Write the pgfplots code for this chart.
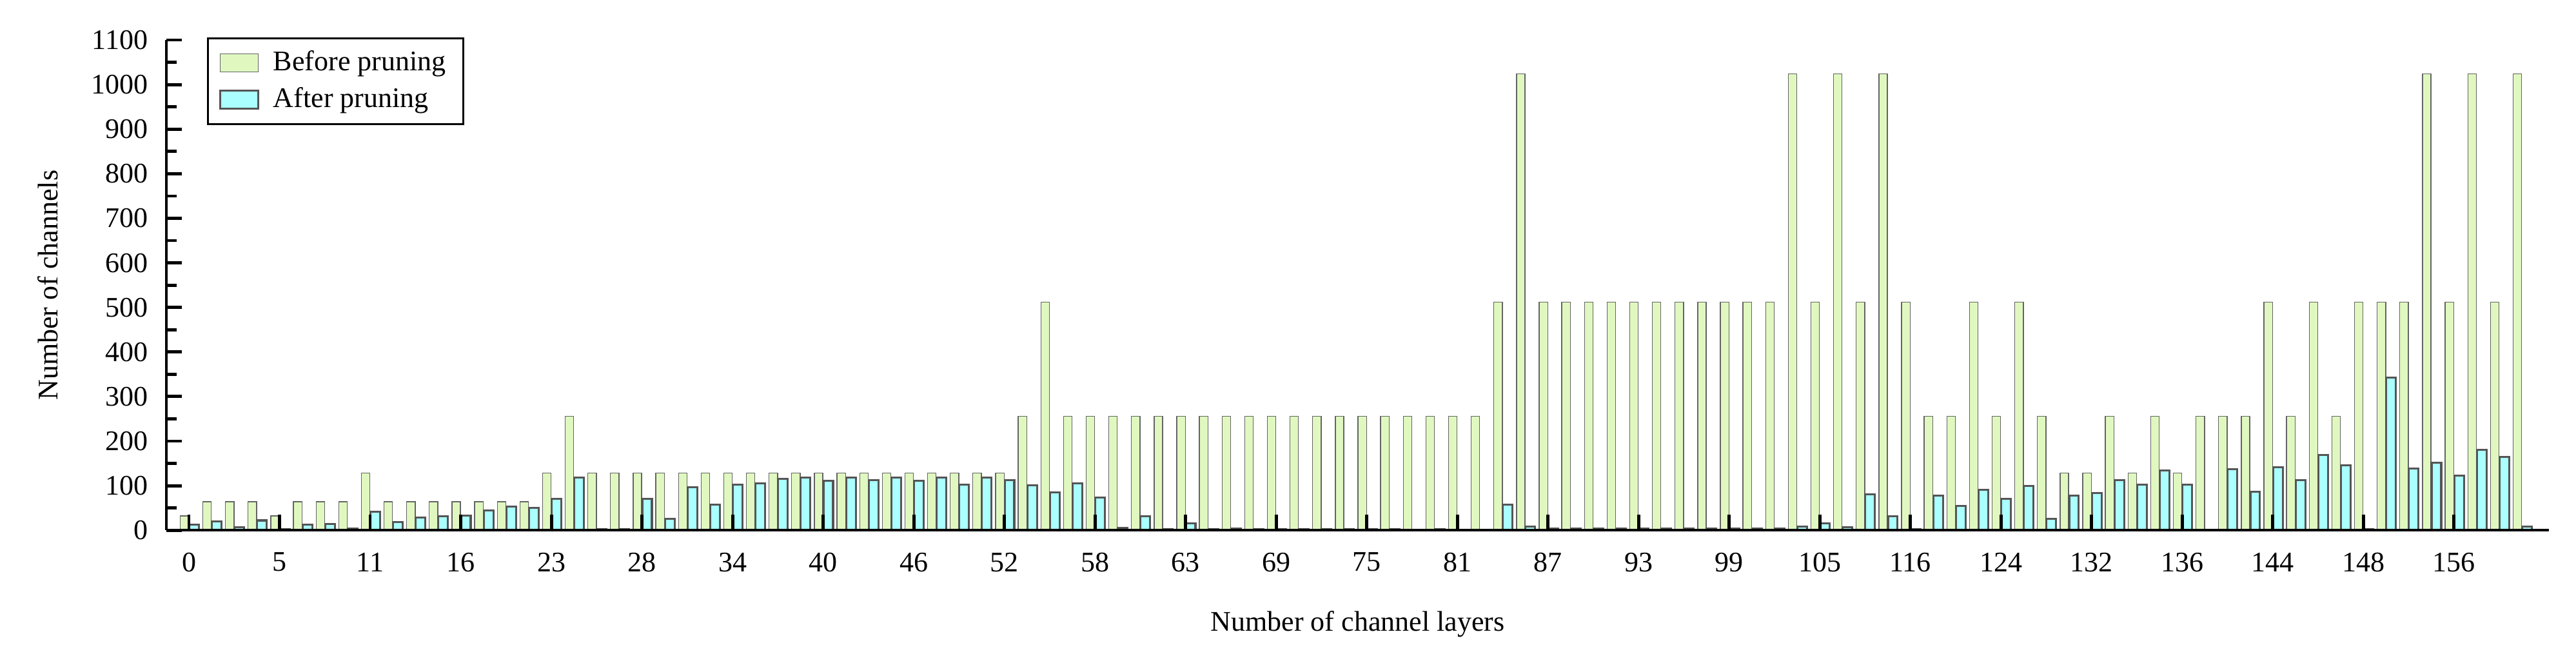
\documentclass[border=0pt]{standalone}
\usepackage{fontspec}
\setmainfont{Liberation Serif}
\usepackage{pgfplots}
\usepackage{pgfplotstable}
\pgfplotsset{compat=1.18}
\definecolor{beforefill}{RGB}{224,248,192}
\definecolor{beforeedge}{RGB}{100,100,100}
\definecolor{afterfill}{RGB}{170,255,255}
\definecolor{afteredge}{RGB}{85,85,85}

% group  before  after
\pgfplotstableread{
g before after
0 32 13
1 64 20
2 64 7
3 64 22
4 32 3
5 64 12
6 64 14
7 64 4
8 128 41
9 64 18
10 64 28
11 64 31
12 64 33
13 64 45
14 64 53
15 64 50
16 128 71
17 256 118
18 128 3
19 128 3
20 128 71
21 128 26
22 128 97
23 128 58
24 128 102
25 128 105
26 128 115
27 128 118
28 128 111
29 128 118
30 128 112
31 128 118
32 128 111
33 128 118
34 128 103
35 128 118
36 128 112
37 256 101
38 512 85
39 256 105
40 256 74
41 256 6
42 256 32
43 256 3
44 256 15
45 256 2
46 256 4
47 256 2
48 256 3
49 256 2
50 256 3
51 256 2
52 256 2
53 256 2
54 256 1
55 256 2
56 256 1
57 256 1
58 512 58
59 1024 8
60 512 4
61 512 4
62 512 4
63 512 4
64 512 4
65 512 4
66 512 4
67 512 4
68 512 4
69 512 4
70 512 4
71 1024 8
72 512 15
73 1024 7
74 512 80
75 1024 31
76 512 3
77 256 78
78 256 55
79 512 91
80 256 70
81 512 99
82 256 25
83 128 78
84 128 83
85 256 112
86 128 103
87 256 134
88 128 103
89 256 1
90 256 137
91 256 87
92 512 141
93 256 112
94 512 169
95 256 146
96 512 3
97 512 342
98 512 139
99 1024 151
100 512 122
101 1024 180
102 512 164
103 1024 8
}\layers

\pgfplotsset{
  swatch/.style={legend image code/.code={
    \draw[##1] (0pt,-3.2pt) rectangle (13.4pt,3.2pt);}},
}

\begin{document}
\begin{tikzpicture}
\begin{axis}[
  scale only axis, width=839.5pt, height=172.7pt,
  xmin=-1, xmax=104.2, ymin=0, ymax=1100,
  ybar=0.2pt, bar width=3pt,
  axis x line=bottom, axis y line=left,
  axis line style={-, line width=1pt},
  axis on top,
  tick align=inside,
  major tick length=5.5pt, minor tick length=3.7pt,
  tick style={black, line width=1.1pt},
  xtick={0,4,...,100},
  xticklabels={0,5,11,16,23,28,34,40,46,52,58,63,69,75,81,87,93,99,105,116,124,132,136,144,148,156},
  ytick={0,100,...,1100}, minor y tick num=1,
  /pgf/number format/1000 sep={},
  /pgf/number format/assume math mode=true,
  xticklabel style={yshift=-4.4pt},
  yticklabel style={xshift=-3pt},
  xlabel={Number of channel layers},
  ylabel={Number of channels},
  xlabel style={at={(axis description cs:0.5,-0.192)}, anchor=center},
  ylabel style={at={(axis description cs:-0.0496,0.5)}, anchor=center},
  legend style={at={(axis description cs:0.017,1.005)}, anchor=north west,
    draw=black, line width=0.7pt, inner xsep=4pt, inner ysep=3.3pt,
    row sep=2.4pt, nodes={inner ysep=1pt},
    /tikz/every odd column/.append style={column sep=3pt}},
  legend cell align=left,
]
\addplot[fill=beforefill, draw=beforeedge, line width=0.3pt, swatch]
  table[x=g, y=before] {\layers};
\addlegendentry{Before pruning}
\addplot[fill=afterfill, draw=afteredge, line width=0.7pt, bar width=3.4pt, swatch]
  table[x=g, y=after] {\layers};
\addlegendentry{After pruning}
\end{axis}
\path ([shift={(-58.6pt,-42.7pt)}]current axis.south west)
      ([shift={(9.5pt,14.1pt)}]current axis.north east);
\end{tikzpicture}
\end{document}
